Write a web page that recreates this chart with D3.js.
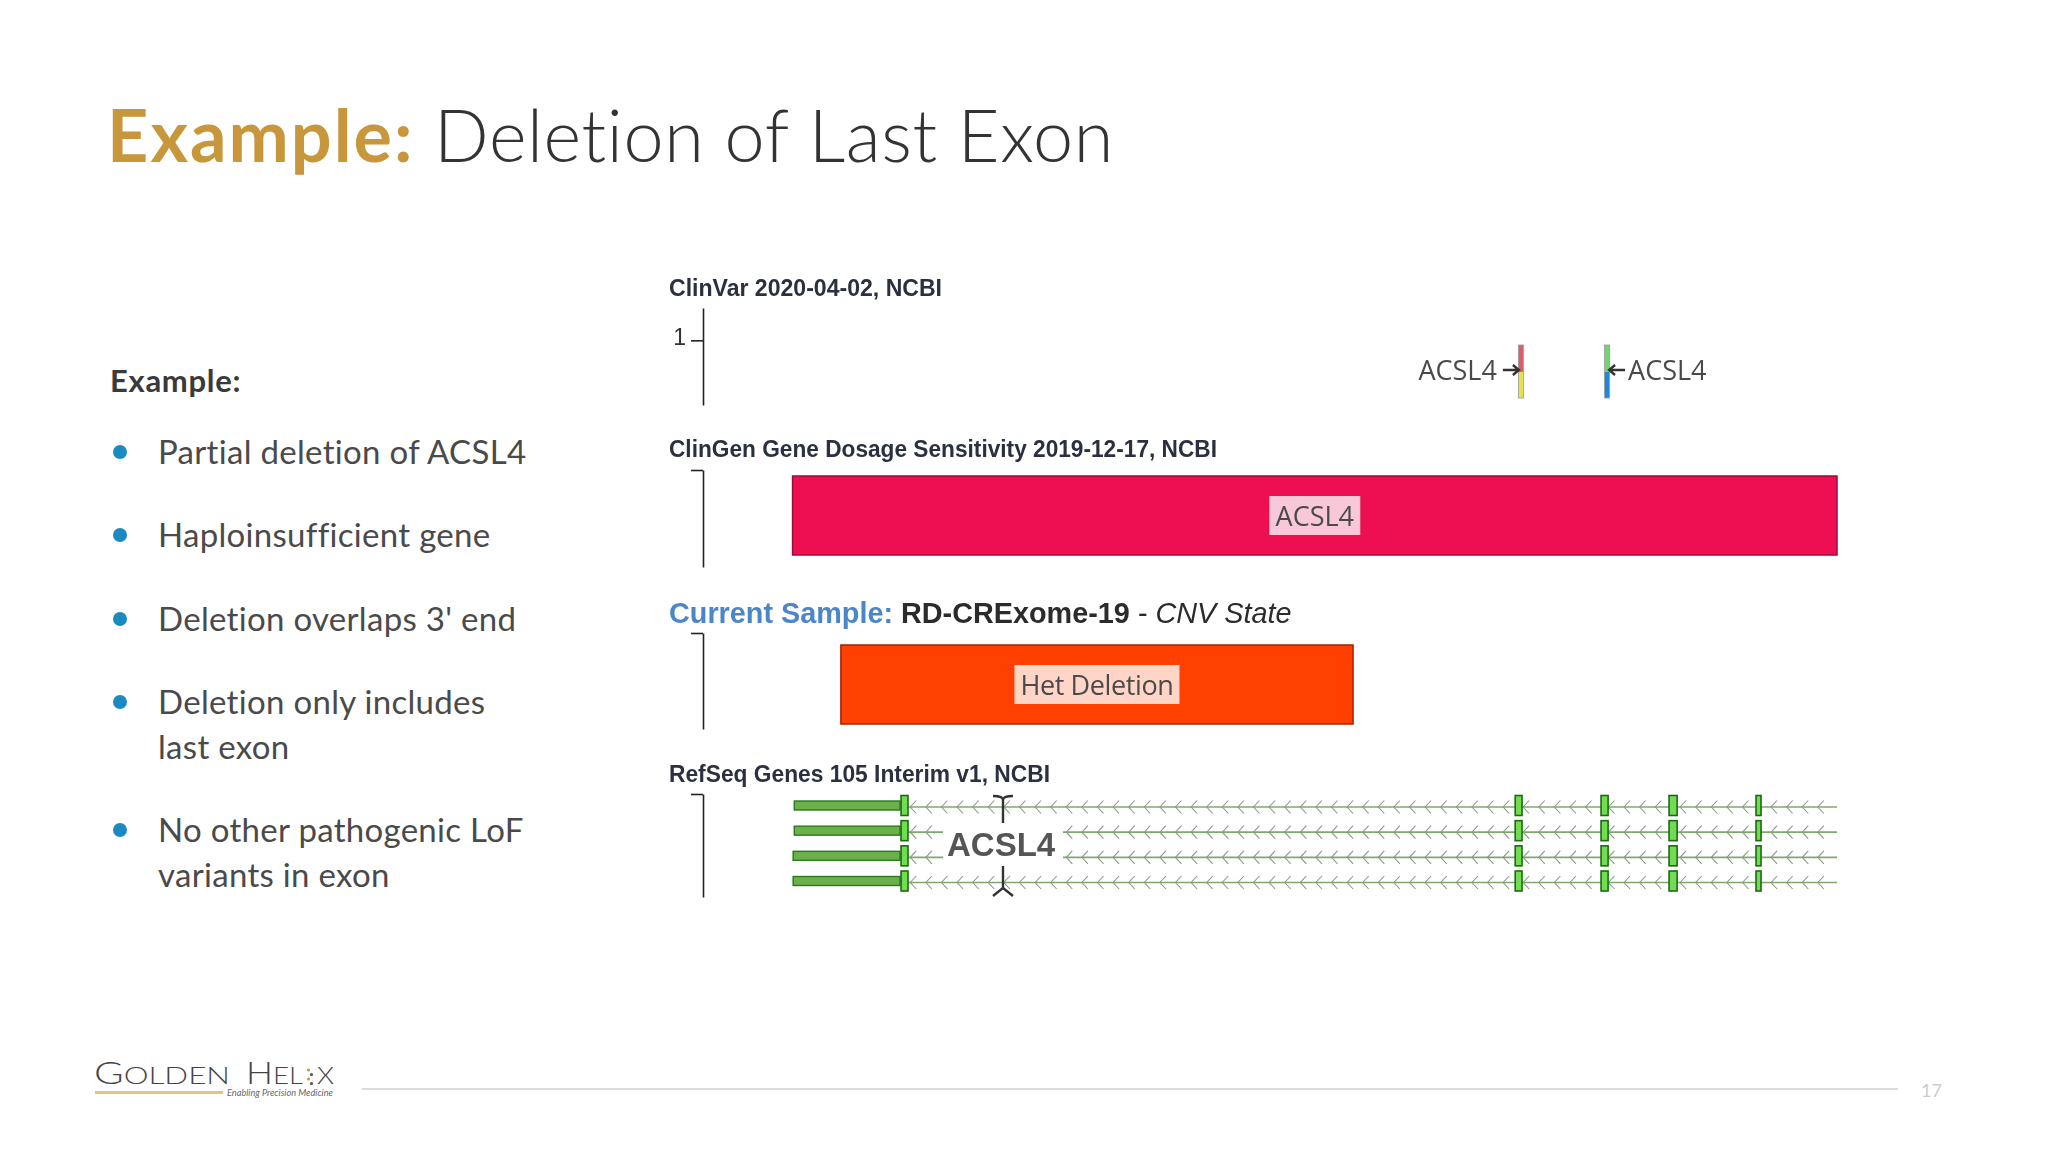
<!DOCTYPE html>
<html>
<head>
<meta charset="utf-8">
<script src="https://cdn.jsdelivr.net/npm/d3@7"></script>
<style>
  html, body { margin: 0; padding: 0; background: #fff; }
  svg { display: block; }
  text { font-family: Lato, sans-serif; font-variant-ligatures: none; }
  .inset text { font-family: "Liberation Sans", sans-serif; }
  .inset .label { font-family: "Open Sans", sans-serif; font-size: 27px; fill: #4a4a4a; }
</style>
</head>
<body>
<svg id="slide" width="2048" height="1152"></svg>
<script>
const bullets = [
  ["Partial deletion of ACSL4"],
  ["Haploinsufficient gene"],
  ["Deletion overlaps 3' end"],
  ["Deletion only includes", "last exon"],
  ["No other pathogenic LoF", "variants in exon"]
];
const trackTitles = [
  "ClinVar 2020-04-02, NCBI",
  "ClinGen Gene Dosage Sensitivity 2019-12-17, NCBI",
  "RefSeq Genes 105 Interim v1, NCBI"
];
// positions in kb from the start of the gene
const geneSpan = [0, 91.9];
const clinvarMarks = [
  { name: "ACSL4", pos: 64.1, top: "#d9606a", bottom: "#e8e050", side: "left" },
  { name: "ACSL4", pos: 71.68, top: "#70d870", bottom: "#1e88e0", side: "right" }
];
const clingenRegion = { name: "ACSL4", start: 0.05, end: 91.9 };
const cnvRegion = { name: "Het Deletion", start: 4.3, end: 49.34 };
const utrStarts = [0.2, 0.2, 0.1, 0.1];
const utrEnd = 9.5;
const exons = [[9.59, 10.2], [63.6, 64.2], [71.15, 71.77], [77.13, 77.84], [84.78, 85.22]];
const chevronStarts = [10.4, 64.3, 71.8, 78.1, 86.1];
const chevronEnds = [63.4, 70.9, 76.9, 84.6, 90.7];

const svg = d3.select("#slide");
const x = d3.scaleLinear().domain([0, 91.9]).range([792, 1837]);
const kbStep = 15.6 / 11.37;

// title
const title = svg.append("text").attr("x", 107).attr("y", 162).attr("font-size", 72);
title.append("tspan").attr("font-weight", 700).attr("fill", "#c8973c").attr("letter-spacing", 2).text("Example: ");
title.append("tspan").attr("font-weight", 300).attr("fill", "#333").attr("letter-spacing", 0.6).text("Deletion of Last Exon");

// left column
svg.append("text").attr("x", 110).attr("y", 392).attr("font-size", 31).attr("letter-spacing", 0.7)
  .attr("font-weight", 700).attr("fill", "#3a3a3a").text("Example:");

const bulletY = [452, 535, 619, 702, 830];
const lineGap = 45;
bullets.forEach((lines, i) => {
  svg.append("circle").attr("cx", 120).attr("cy", bulletY[i]).attr("r", 7).attr("fill", "#1a8ac0");
  lines.forEach((line, j) => {
    svg.append("text").attr("x", 158).attr("y", bulletY[i] + 12 + j * lineGap)
      .attr("font-size", 33).attr("font-weight", 400).attr("letter-spacing", 0.3)
      .attr("fill", "#4a4a4a").text(line);
  });
});

// tracks
const inset = svg.append("g").attr("class", "inset").style("filter", "blur(0.4px)");

function trackAxis(top, bottom, ticks, maxVal, fmt) {
  const y = d3.scaleLinear().domain([0, maxVal]).range([bottom, top]);
  const g = inset.append("g").attr("transform", "translate(703,0)")
    .call(d3.axisLeft(y).tickValues(ticks).tickSize(12).tickSizeOuter(0).tickFormat(fmt).tickPadding(5));
  g.selectAll(".domain").attr("stroke", "#222").attr("stroke-width", 1.6);
  g.selectAll(".tick line").attr("stroke", "#222").attr("stroke-width", 1.6);
  g.selectAll(".tick text").attr("font-size", 23).attr("fill", "#333").attr("dy", "0.2em");
  return g;
}

function trackTitle(txt, yy, w) {
  inset.append("text").attr("x", 669).attr("y", yy).attr("font-size", 23).attr("font-weight", 700)
    .attr("fill", "#2b3040").attr("textLength", w).attr("lengthAdjust", "spacingAndGlyphs").text(txt);
}

// ClinVar
trackTitle(trackTitles[0], 296, 273);
trackAxis(308, 405, [1], 1.5, d3.format("d"));
clinvarMarks.forEach(m => {
  const cx = x(m.pos);
  inset.append("rect").attr("x", cx - 2.5).attr("y", 345).attr("width", 5).attr("height", 27).attr("fill", m.top);
  inset.append("rect").attr("x", cx - 2.5).attr("y", 372).attr("width", 5).attr("height", 26).attr("fill", m.bottom);
  inset.append("rect").attr("x", cx - 2.5).attr("y", 345).attr("width", 5).attr("height", 53)
    .attr("fill", "none").attr("stroke", "#999").attr("stroke-width", 0.8);
  const dir = m.side === "left" ? -1 : 1;
  const tip = cx + dir * 2;
  inset.append("path")
    .attr("d", `M${tip + dir * 16},370H${tip}M${tip + dir * 6},365L${tip},370L${tip + dir * 6},375`)
    .attr("fill", "none").attr("stroke", "#333").attr("stroke-width", 2.4);
  inset.append("text").attr("class", "label").attr("x", cx + dir * (m.side === "left" ? 24 : 21)).attr("y", 380)
    .attr("text-anchor", m.side === "left" ? "end" : "start").text(m.name);
});

// region bars with a pale label box in the middle
function regionBar(r, top, bottom, fill, stroke, labelFill, boxW, spacing) {
  inset.append("rect").attr("x", x(r.start)).attr("y", top)
    .attr("width", x(r.end) - x(r.start)).attr("height", bottom - top)
    .attr("fill", fill).attr("stroke", stroke).attr("stroke-width", 1.5);
  const mid = (x(r.start) + x(r.end)) / 2;
  const cy = (top + bottom) / 2;
  inset.append("rect").attr("x", mid - boxW / 2).attr("y", cy - 19.5)
    .attr("width", boxW).attr("height", 39).attr("fill", labelFill);
  inset.append("text").attr("class", "label").attr("x", mid).attr("y", cy + 10)
    .attr("letter-spacing", spacing).attr("text-anchor", "middle").text(r.name);
}

// ClinGen
trackTitle(trackTitles[1], 457, 548);
trackAxis(470, 567, [1], 1, () => "");
regionBar(clingenRegion, 476, 555, "#ee0e52", "#a00a3a", "#f9c8d8", 91, 0);

// current sample
const cur = inset.append("text").attr("x", 669).attr("y", 623).attr("font-size", 28.8);
cur.append("tspan").attr("font-weight", 700).attr("fill", "#4a86c8").text("Current Sample: ");
cur.append("tspan").attr("font-weight", 700).attr("fill", "#2b2b2b").text("RD-CRExome-19");
cur.append("tspan").attr("fill", "#2b2b2b").text(" - ");
cur.append("tspan").attr("font-style", "italic").attr("fill", "#2b2b2b").text("CNV State");
trackAxis(633, 729, [1], 1, () => "");
regionBar(cnvRegion, 645, 724, "#ff4000", "#a82000", "#ffd5c8", 165, -0.4);

// RefSeq
trackTitle(trackTitles[2], 782, 381);
trackAxis(794, 897, [1], 1, () => "");
const rowY = d3.scalePoint().domain(d3.range(utrStarts.length)).range([805.5, 881]);
const labelGap = [943, 1063];

utrStarts.forEach((start, row) => {
  const cy = rowY(row);
  const blank = row === 1 || row === 2;
  const lineY = cy + 1.5;
  const segs = blank
    ? [[x(exons[0][1]), labelGap[0]], [labelGap[1], x(geneSpan[1])]]
    : [[x(exons[0][1]), x(geneSpan[1])]];
  segs.forEach(s => inset.append("line").attr("x1", s[0]).attr("x2", s[1]).attr("y1", lineY).attr("y2", lineY)
    .attr("stroke", "#7ea870").attr("stroke-width", 1.6));

  chevronStarts.forEach((c0, k) => {
    d3.range(c0, chevronEnds[k], kbStep).forEach(c => {
      const tip = x(c);
      if (blank && tip > labelGap[0] - 6 && tip < labelGap[1]) return;
      inset.append("path").attr("d", `M${tip + 6},${lineY - 6.5}L${tip},${lineY}L${tip + 6},${lineY + 6.5}`)
        .attr("fill", "none").attr("stroke", "#8a9a84").attr("stroke-width", 1.1);
    });
  });

  inset.append("rect").attr("x", x(start)).attr("y", cy - 4.5)
    .attr("width", x(utrEnd) - x(start)).attr("height", 9)
    .attr("fill", "#6ab04c").attr("stroke", "#2a7a1a").attr("stroke-width", 1.4);
  exons.forEach(e => {
    inset.append("rect").attr("x", x(e[0])).attr("y", cy - 10)
      .attr("width", x(e[1]) - x(e[0])).attr("height", 20)
      .attr("fill", "#72dc52").attr("stroke", "#1b6b10").attr("stroke-width", 1.6);
  });
});

inset.append("text").attr("x", 947).attr("y", 856).attr("font-size", 33).attr("font-weight", 700)
  .attr("fill", "#555").text("ACSL4");
// resize cursor left in the screenshot
inset.append("path").attr("d", "M993,796Q1003,796 1003,800Q1003,796 1013,796M1003,800V823M1003,866V888L993,896M1003,888L1013,896")
  .attr("fill", "none").attr("stroke", "#333").attr("stroke-width", 2.4);

// footer
function logoWord(parts, x0, x1) {
  const t = svg.append("text").attr("x", x0).attr("y", 1084).attr("font-weight", 300).attr("fill", "#444")
    .attr("textLength", x1 - x0).attr("lengthAdjust", "spacingAndGlyphs");
  parts.forEach(p => t.append("tspan").attr("font-size", p[1]).text(p[0]));
}
logoWord([["G", 31], ["OLDEN", 24]], 94, 230);
logoWord([["H", 31], ["EL", 24]], 246, 303);
logoWord([["X", 24]], 317, 334);
svg.selectAll("circle.dna").data(["#c8973c", "#555", "#c8973c", "#555"]).enter().append("circle")
  .attr("class", "dna").attr("cx", (d, i) => 310 + (i % 2 ? 1.5 : -1.5)).attr("cy", (d, i) => 1070 + i * 4.5)
  .attr("r", 1.6).attr("fill", d => d);
svg.append("rect").attr("x", 95).attr("y", 1091).attr("width", 128).attr("height", 3).attr("fill", "#e3c485");
svg.append("text").attr("x", 227).attr("y", 1096).attr("font-size", 9.6).attr("font-style", "italic")
  .attr("font-weight", 400).attr("fill", "#666").attr("textLength", 106).attr("lengthAdjust", "spacingAndGlyphs")
  .text("Enabling Precision Medicine");
svg.append("line").attr("x1", 362).attr("x2", 1898).attr("y1", 1089).attr("y2", 1089)
  .attr("stroke", "#d0d0d0").attr("stroke-width", 1.5);
svg.append("text").attr("x", 1921).attr("y", 1097).attr("font-size", 18).attr("fill", "#ccc").text("17");
</script>
</body>
</html>
